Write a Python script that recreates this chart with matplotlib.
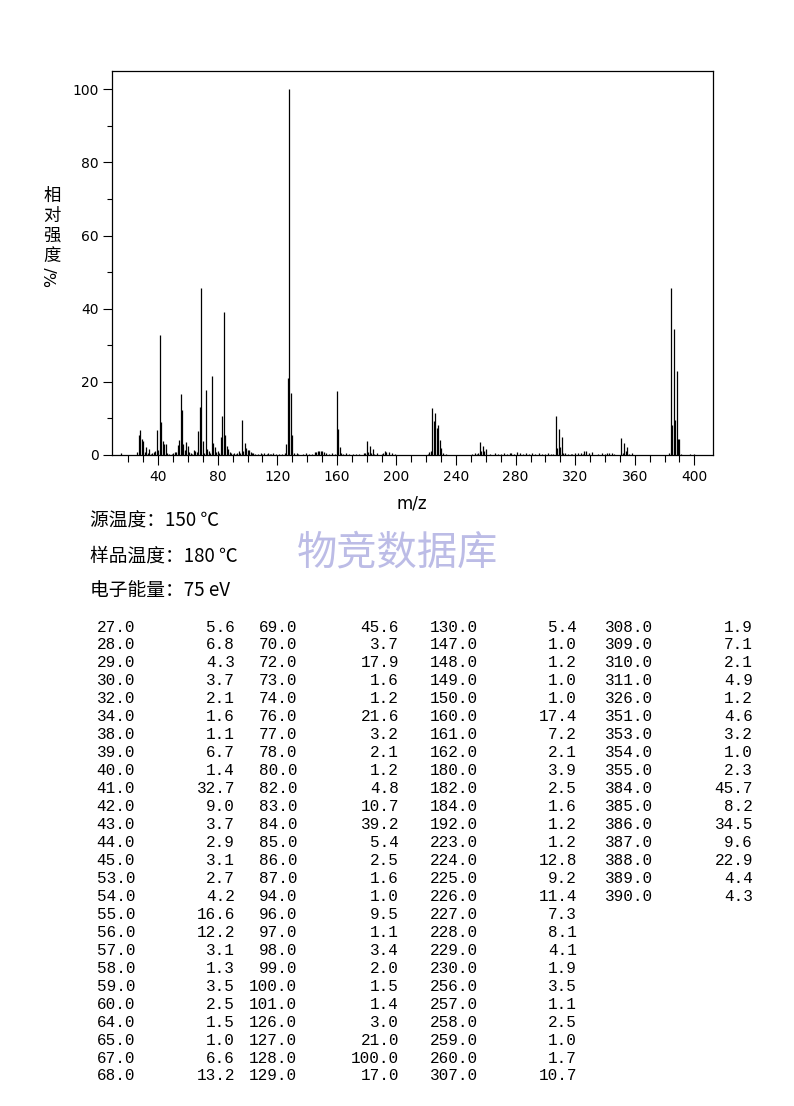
import matplotlib
matplotlib.use("Agg")
import matplotlib.pyplot as plt
from matplotlib.ticker import MultipleLocator, FixedLocator

# peaks listed in the table (m/z, relative intensity %)
mz = [27.0, 28.0, 29.0, 30.0, 32.0, 34.0, 38.0, 39.0, 40.0, 41.0, 42.0, 43.0, 44.0,
      45.0, 53.0, 54.0, 55.0, 56.0, 57.0, 58.0, 59.0, 60.0, 64.0, 65.0, 67.0, 68.0,
      69.0, 70.0, 72.0, 73.0, 74.0, 76.0, 77.0, 78.0, 80.0, 82.0, 83.0, 84.0, 85.0,
      86.0, 87.0, 94.0, 96.0, 97.0, 98.0, 99.0, 100.0, 101.0, 126.0, 127.0, 128.0, 129.0,
      130.0, 147.0, 148.0, 149.0, 150.0, 160.0, 161.0, 162.0, 180.0, 182.0, 184.0, 192.0,
      223.0, 224.0, 225.0, 226.0, 227.0, 228.0, 229.0, 230.0, 256.0, 257.0, 258.0, 259.0,
      260.0, 307.0,
      308.0, 309.0, 310.0, 311.0, 326.0, 351.0, 353.0, 354.0, 355.0, 384.0, 385.0, 386.0,
      387.0, 388.0, 389.0, 390.0]
intensity = [5.6, 6.8, 4.3, 3.7, 2.1, 1.6, 1.1, 6.7, 1.4, 32.7, 9.0, 3.7, 2.9,
             3.1, 2.7, 4.2, 16.6, 12.2, 3.1, 1.3, 3.5, 2.5, 1.5, 1.0, 6.6, 13.2,
             45.6, 3.7, 17.9, 1.6, 1.2, 21.6, 3.2, 2.1, 1.2, 4.8, 10.7, 39.2, 5.4,
             2.5, 1.6, 1.0, 9.5, 1.1, 3.4, 2.0, 1.5, 1.4, 3.0, 21.0, 100.0, 17.0,
             5.4, 1.0, 1.2, 1.0, 1.0, 17.4, 7.2, 2.1, 3.9, 2.5, 1.6, 1.2,
             1.2, 12.8, 9.2, 11.4, 7.3, 8.1, 4.1, 1.9, 3.5, 1.1, 2.5, 1.0,
             1.7, 10.7,
             1.9, 7.1, 2.1, 4.9, 1.2, 4.6, 3.2, 1.0, 2.3, 45.7, 8.2, 34.5,
             9.6, 22.9, 4.4, 4.3]

# small peaks seen in the spectrum but below the table threshold (estimated)
minor_mz = [15, 26, 31, 33, 35, 36, 37, 46, 47, 49, 50, 51, 52, 61, 62, 63, 66, 71,
            75, 79, 81, 88, 89, 90, 91, 92, 93, 95, 102, 103, 104, 105, 107, 109, 110,
            111, 113, 114, 115, 116, 117, 119, 121, 123, 125, 131, 133, 134, 137, 139,
            141, 143, 145, 146, 151, 153, 155, 157, 159, 163, 164, 166, 168, 171, 173,
            175, 178, 179, 181, 183, 185, 187, 190, 191, 193, 195, 197, 199, 221, 222,
            231, 233, 251, 253, 254, 255, 263, 266, 268, 270, 272, 274, 276, 277, 279,
            281, 283, 285, 287, 289, 291, 293, 296, 298, 300, 302, 304, 305, 312, 313,
            315, 317, 318, 320, 322, 324, 325, 327, 329, 331, 335, 338, 340, 341, 343,
            345, 346, 352, 356, 358, 383, 391, 397, 400]
minor_int = [0.5, 0.9, 0.8, 0.6, 0.4, 0.5, 0.7, 0.5, 0.4, 0.3, 0.6, 0.8, 0.7, 0.8, 0.5,
             0.4, 0.9, 0.6, 0.5, 0.7, 0.5, 0.8, 0.5, 0.4, 0.5, 0.4, 0.6, 0.5, 0.8, 0.5,
             0.5, 0.4, 0.4, 0.5, 0.3, 0.5, 0.4, 0.5, 0.3, 0.4, 0.5, 0.3, 0.4, 0.4, 0.5,
             0.6, 0.5, 0.4, 0.3, 0.5, 0.4, 0.3, 0.9, 0.7, 0.8, 0.5, 0.4, 0.5, 0.3, 0.6,
             0.4, 0.5, 0.4, 0.3, 0.4, 0.3, 0.5, 0.6, 0.7, 0.6, 0.4, 0.5, 0.4, 0.6, 0.9,
             0.7, 0.5, 0.4, 0.4, 0.8, 0.5, 0.4, 0.3, 0.5, 0.4, 0.6, 0.4, 0.5, 0.3, 0.4,
             0.5, 0.4, 0.6, 0.5, 0.4, 0.7, 0.5, 0.4, 0.6, 0.3, 0.5, 0.4, 0.5, 0.4, 0.4,
             0.5, 0.4, 0.3, 0.6, 0.5, 0.4, 0.4, 0.3, 0.5, 0.6, 0.5, 0.4, 1.0, 0.5, 0.7,
             0.4, 0.5, 0.3, 0.5, 0.5, 0.6, 0.4, 0.6, 0.3, 0.5, 0.6, 0.3, 0.4, 0.4]

info_lines = ["源温度：150 ℃", "样品温度：180 ℃", "电子能量：75 eV"]
watermark = "物竞数据库"

W, H = 794, 1106


def fx(px):
    return px / W


def fy(py):
    return 1 - py / H


cjk = ["Noto Sans CJK SC", "DejaVu Sans"]

fig = plt.figure(figsize=(W / 100, H / 100), dpi=100)
fig.patch.set_facecolor("white")

ax = fig.add_axes([fx(112), fy(455), fx(713) - fx(112), fy(71) - fy(455)])
ax.vlines(mz, 0, intensity, color="black", linewidth=0.9)
ax.vlines(minor_mz, 0, minor_int, color="black", linewidth=0.9)
ax.set_xlim(9, 412.5)
ax.set_ylim(0, 105)

ax.xaxis.set_major_locator(FixedLocator(range(40, 401, 40)))
ax.xaxis.set_minor_locator(FixedLocator(range(20, 401, 10)))
ax.yaxis.set_major_locator(MultipleLocator(20))
ax.yaxis.set_minor_locator(MultipleLocator(10))
ax.tick_params(axis="x", which="major", direction="out", length=7.5, width=0.8,
               labelsize=10, pad=3)
ax.tick_params(axis="x", which="minor", direction="out", length=5, width=0.8)
ax.tick_params(axis="y", which="major", direction="out", length=6.5, width=0.8,
               labelsize=10, pad=3)
ax.tick_params(axis="y", which="minor", direction="out", length=3.5, width=0.8)
for s in ax.spines.values():
    s.set_linewidth(0.9)

fig.text(fx(412), fy(503), "m/z", ha="center", va="center", fontsize=12)

# vertical y label
for ch, yy in zip("相对强度", [196, 216, 236, 256]):
    fig.text(fx(52), fy(yy), ch, ha="center", va="center", fontsize=12.5, family=cjk)
fig.text(fx(52), fy(277), "%/", ha="center", va="center", fontsize=11.5, rotation=90)

for line, yy in zip(info_lines, [521, 556, 591]):
    fig.text(fx(90), fy(yy), line, ha="left", va="center", fontsize=13.5, family=cjk)

fig.text(fx(397), fy(553), watermark, ha="center", va="center", fontsize=29,
         family=cjk, color="#bcbce6")

# peak table, 4 column groups of 26 rows
mz_right = [135, 297, 478, 653]
int_right = [235, 399, 577, 753]
rows = 26
for i, (m, v) in enumerate(zip(mz, intensity)):
    col, row = divmod(i, rows)
    yy = 627 + row * 17.96
    fig.text(fx(mz_right[col]), fy(yy), f"{m:.1f}", ha="right", va="center",
             fontsize=11.5, family="Liberation Mono")
    fig.text(fx(int_right[col]), fy(yy), f"{v:.1f}", ha="right", va="center",
             fontsize=11.5, family="Liberation Mono")

fig.savefig("out.png", dpi=100)
